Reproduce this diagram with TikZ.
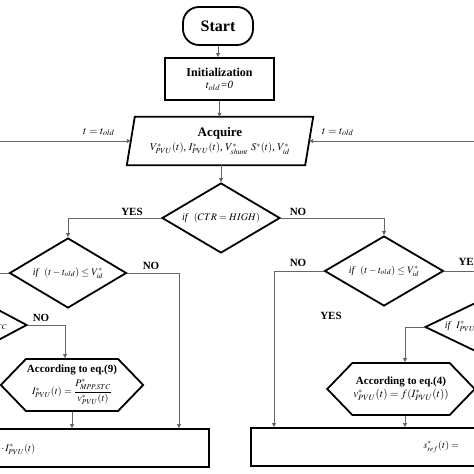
\documentclass[tikz,border=0pt]{standalone}
\usepackage{amsmath}
\usepackage{mathptmx}
\usepackage{fontspec}
\setmainfont{Liberation Serif}
\usetikzlibrary{arrows.meta,shapes.geometric,shapes.symbols,calc}

\begin{document}
\begin{tikzpicture}[x=1pt,y=-1pt,
	block/.style={draw,line width=1.8pt,inner sep=2pt,align=center},
	decision/.style={block,diamond,aspect=1.7,inner sep=0pt,font=\fontsize{10}{12}\selectfont},
	hexa/.style={block,signal,signal to=west and east,signal pointer angle=92,inner sep=1pt,font=\fontsize{11}{13}\selectfont},
	link/.style={color=black!60,line width=0.8pt},
	arr/.style={link,-{Triangle[length=4pt,width=4pt]}},
	lbl/.style={font=\fontsize{11}{13}\selectfont\bfseries}]
	\useasboundingbox (0,0) rectangle (474,474);

	\node[block,rounded corners=16pt,minimum width=70pt,minimum height=38pt,font=\fontsize{16}{18}\selectfont\bfseries] (start) at (218,26) {Start};
	\node[block,minimum width=109pt,minimum height=42pt] (init) at (219.5,79) {\fontsize{12}{14}\selectfont\bfseries Initialization\\ \fontsize{11}{13}\selectfont\mdseries\itshape $t_{old}$=0};
	\node[align=center,minimum width=178pt,minimum height=48pt,inner sep=0pt] (acq) at (220,141) {\fontsize{13}{15}\selectfont\bfseries Acquire\\[2pt] \fontsize{10.5}{13}\selectfont\mdseries $V^{*}_{PVU}(t)$, $I^{*}_{PVU}(t)$, $V^{*}_{shunt}$ $S^{*}(t)$, $V^{*}_{id}$};
	\draw[line width=1.8pt] ($(acq.north west)+(4,0)$) -- ($(acq.north east)+(4,0)$) -- ($(acq.south east)+(-4,0)$) -- ($(acq.south west)+(-4,0)$) -- cycle;

	% decisions
	\node[decision,minimum width=118pt,minimum height=70pt] (dctr) at (221,218) {\textit{if}\ \ $(CTR=HIGH)$};
	\node[decision,minimum width=117pt,minimum height=70pt] (dtl) at (68,273) {\textit{if}\ \ $(t-t_{old})\le V^{*}_{id}$};
	\node[decision,minimum width=119pt,minimum height=70pt] (dtr) at (384,271) {\textit{if}\ \ $(t-t_{old})\le V^{*}_{id}$};
	\node[decision,aspect=2,minimum width=116pt,minimum height=62pt] (dil) at (-31,325) {\textit{if}\ \ $I^{*}_{PVU}\ge I^{*}_{MPP,STC}$};
	\node[decision,aspect=2,minimum width=116pt,minimum height=56pt] (dir) at (483,327) {\textit{if}\ \ $I^{*}_{PVU}\ge I^{*}_{MPP,STC}$};

	\node[hexa,minimum width=135pt,minimum height=52pt] (hexl) at (72,385) {\textbf{According to eq.(9)}\\[3pt] \fontsize{10}{12}\selectfont$I^{*}_{PVU}(t)=\dfrac{P^{*}_{MPP,STC}}{v^{*}_{PVU}(t)}$};
	\node[hexa,minimum width=122pt,minimum height=52pt] (hexr) at (401,389) {\textbf{According to eq.(4)}\\ $v^{*}_{PVU}(t)=f(I^{*}_{PVU}(t))$};

	\node[block,minimum width=409pt,minimum height=38pt] (outl) at (4.5,448) {};
	\node[block,minimum width=429pt,minimum height=38pt] (outr) at (465.5,447) {};
	\node[anchor=west,font=\fontsize{10}{12}\selectfont] (eql) at (-2,449) {$\cdot\, I^{*}_{PVU}(t)$};
	\node[anchor=west,font=\fontsize{10}{12}\selectfont] (eqr) at (420,447) {$s^{*}_{ref}(t)=$};

	\coordinate (inl) at (-5,141);
	\coordinate (inr) at (480,141);
	\coordinate (exl) at (-5,273);
	\coordinate (exr) at (480,271);
	\coordinate (nol) at (179,0);
	\coordinate (nor) at (274,0);
	\coordinate (turnl) at (65,0);
	\coordinate (turnr) at (405,0);

	\draw[arr] (start.south) -- (start.south |- init.north);
	\draw[arr] (init.south) -- (init.south |- acq.north);
	\draw[arr] (dctr.north |- acq.south) -- (dctr.north);
	\draw[arr] (inl) -- (acq.west);
	\draw[arr] (inr) -- (acq.east);
	\draw[arr] (dctr.west) -| (dtl.north);
	\draw[arr] (dctr.east) -| (dtr.north);
	\draw[link] (dtl.west) -- (exl);
	\draw[arr] (dtl.east) -| (nol |- outl.north);
	\draw[arr] (dil.east) -| (turnl |- hexl.north);
	\draw[arr] (hexl.south) -- (hexl.south |- outl.north);
	\draw[arr] (dtr.west) -| (nor |- outr.north);
	\draw[link] (dtr.east) -- (exr);
	\draw[arr] (dir.west) -| (turnr |- hexr.north);
	\draw[arr] (turnr |- hexr.south) -- (turnr |- outr.north);

	\node[font=\fontsize{11}{13}\selectfont] (tl) at (99,132) {$t=t_{old}$};
	\node[font=\fontsize{11}{13}\selectfont] (tr) at (338,132) {$t=t_{old}$};
	\node[lbl] (yesctr) at (132,212) {YES};
	\node[lbl] (noctr) at (298,212) {NO};
	\node[lbl] (notl) at (151,266) {NO};
	\node[lbl] (noil) at (41,318) {NO};
	\node[lbl] (notr) at (298,263) {NO};
	\node[lbl,anchor=west] (yestr) at (455,262) {YES};
	\node[lbl] (yesir) at (331,316) {YES};
\end{tikzpicture}
\end{document}
